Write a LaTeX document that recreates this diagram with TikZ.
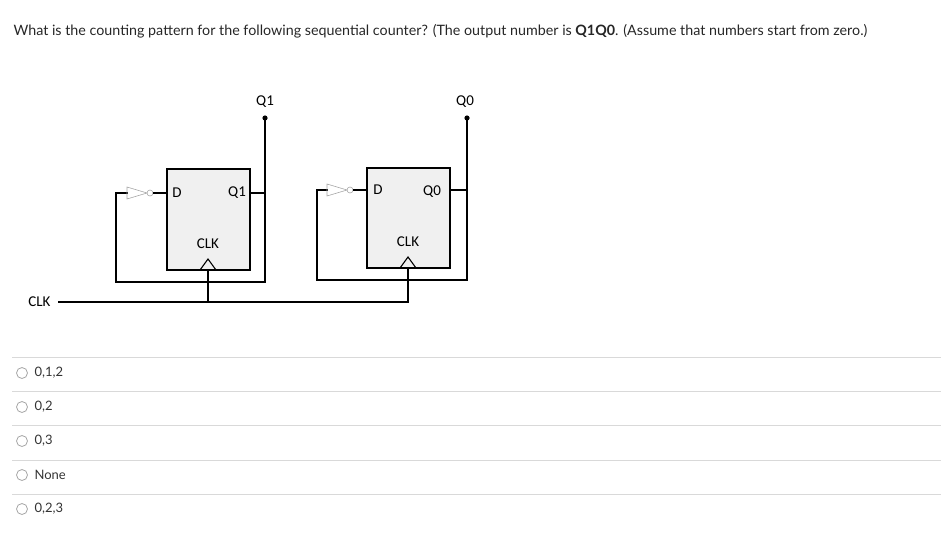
\documentclass[tikz,border=0pt]{standalone}
\usepackage{fontspec}
\setmainfont{Lato}
\newfontfamily\carlitofont{Carlito}
\begin{document}
\begin{tikzpicture}[x=1pt,y=-1pt,
  ff/.style={draw,line width=1.3pt,fill=gray!12},
  wire/.style={line width=1.3pt},
  inv/.style={draw=gray!70,line width=0.6pt},
  sep/.style={draw=gray!30,line width=0.8pt},
  opt/.style={anchor=west,font=\fontsize{13}{15}\selectfont,text=black!80},
  radio/.style={circle,draw=gray!70,minimum size=11pt,inner sep=0pt,line width=0.8pt},
  lbl/.style={font=\carlitofont\fontsize{15}{17}\selectfont}]
\useasboundingbox (0,0) rectangle (941,544);
\node[anchor=west,font=\fontsize{14.3}{16}\selectfont,text=black!85] (q) at (10,31) {What is the counting pattern for the following sequential counter? (The output number is \textbf{Q1Q0}. (Assume that numbers start from zero.)};
% FF1
\draw[ff] (167,169) rectangle (250,270);
\node[lbl] (d1) at (177,193) {D};
\node[lbl] (q1i) at (237,193) {Q1};
\node[lbl] (c1) at (208,244) {CLK};
\draw[line width=1.1pt] (200,270) -- (208,259) -- (216,270);
% FF2
\draw[ff] (367,168) rectangle (450,268);
\node[lbl] (d2) at (378,190) {D};
\node[lbl] (q0i) at (432,192) {Q0};
\node[lbl] (c2) at (408,242) {CLK};
\draw[line width=1.1pt] (400,268) -- (408,257) -- (416,268);
% outputs
\node[lbl] (Q1) at (265,102) {Q1};
\node[lbl] (Q0) at (465,102) {Q0};
\fill (265,118) circle (2.6);
\fill (467,118) circle (2.6);
\draw[wire] (265,118) -- (265,282) -- (116,282) -- (116,193) -- (128,193);
\draw[wire] (250,193) -- (265,193);
\draw[wire] (467,118) -- (467,280) -- (317,280) -- (317,190) -- (328,190);
\draw[wire] (450,190) -- (467,190);
% inverters
\draw[inv] (127,187) -- (147,193) -- (127,199) -- cycle;
\draw[inv] (150,193) circle (3);
\draw[wire] (153,193) -- (167,193);
\draw[inv] (327,184) -- (347,190) -- (327,196) -- cycle;
\draw[inv] (350,190) circle (3);
\draw[wire] (353,190) -- (367,190);
% clk
\node[lbl,anchor=east] (clk) at (54,302) {CLK};
\draw[wire] (clk.east) ++(4,0) -- (408,302) -- (408,268);
\draw[wire] (208,302) -- (208,270);
% options
\foreach \y/\t in {373/{0,1,2},407/{0,2},441/{0,3},475/{None},509/{0,2,3}}{
  \node[radio] at (22,\y) {};
  \node[opt] at (31,\y) {\t};
}
\foreach \y in {357,391,425,460,494} \draw[sep] (12,\y) -- (941,\y);
\end{tikzpicture}
\end{document}
